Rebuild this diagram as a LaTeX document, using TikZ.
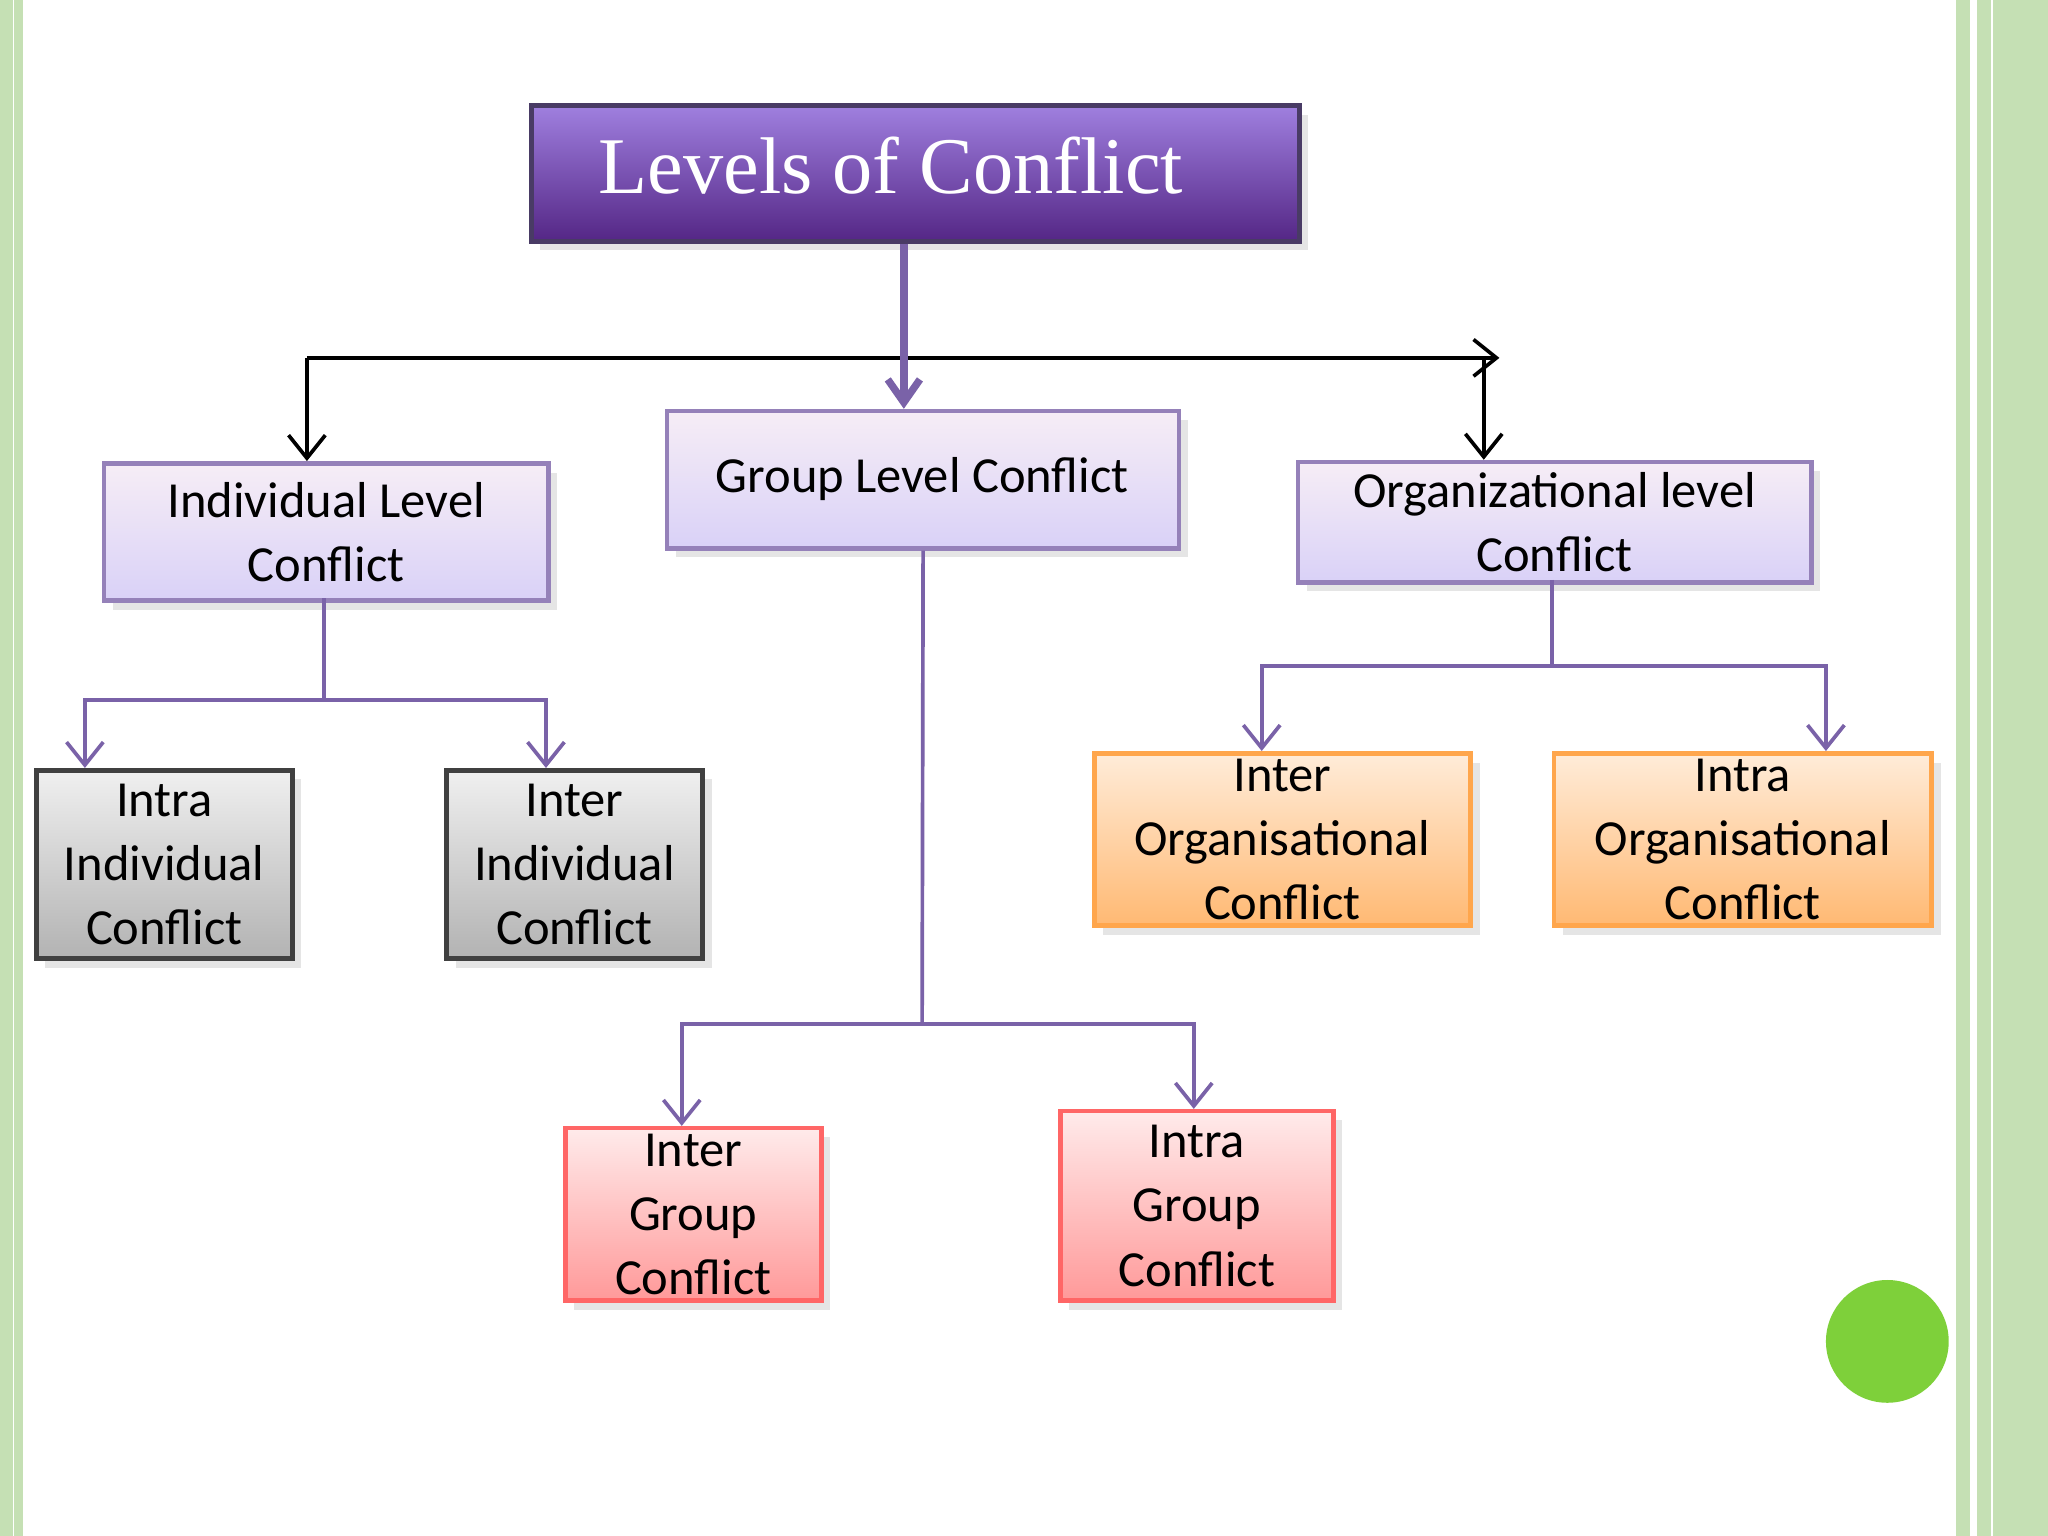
\documentclass[tikz,border=0pt]{standalone}
\usepackage{fontspec}
\setmainfont{Carlito}
\newfontfamily\titlefont{Liberation Serif}
\usetikzlibrary{arrows.meta,shadows}
\definecolor{pline}{HTML}{7A62A8}
\definecolor{gborder}{HTML}{C5E0B4}
\definecolor{gdot}{HTML}{7ED03A}
\tikzset{
 bx/.style={draw, line width=1pt, align=center, font=\fontsize{11}{14}\selectfont, inner sep=0pt, anchor=north west, drop shadow={shadow xshift=2pt,shadow yshift=-2pt,opacity=0.2}},
 lav/.style={bx, draw=pline!80, top color=violet!7, bottom color=violet!35!blue!18!white},
 gry/.style={bx, draw=black!75, top color=black!6, bottom color=black!30},
 org/.style={bx, draw=orange!70, top color=orange!15, bottom color=orange!55},
 pnk/.style={bx, draw=red!60, top color=red!8, bottom color=red!40},
 pl/.style={draw=pline, line width=0.8pt},
 pa/.style={pl, -{Straight Barb[length=5pt,width=8pt]}},
 ba/.style={draw=black, line width=0.8pt, -{Straight Barb[length=5pt,width=8pt]}}
}
\begin{document}
\begin{tikzpicture}[x=0.01cm,y=-0.01cm]
\useasboundingbox (0,0) rectangle (1568,1176);
\fill[white] (0,0) rectangle (1568,1176);
\fill[gborder] (0,0) rectangle (10,1176);
\draw[gborder, line width=2pt] (14,0) -- (14,1176);
\fill[gborder] (1526,0) rectangle (1568,1176);
\draw[gborder, line width=3pt] (1503,0) -- (1503,1176);
\draw[gborder, line width=3pt] (1519,0) -- (1519,1176);
\fill[gdot] (1445,1027) circle (47);
% boxes
\node[bx, draw=pline!60!black, top color=violet!50!blue!50!white, bottom color=violet!65!blue!65!black!85, minimum width=588*0.01cm, minimum height=104*0.01cm] (t) at (405,79) {};
\node[text=white, font=\titlefont\fontsize{17.5}{20}\selectfont] (tt) at (682,127) {Levels of Conflict};
\node[lav, minimum width=340*0.01cm, minimum height=105*0.01cm] (ind) at (78,353) {Individual Level\\Conflict};
\node[lav, minimum width=392*0.01cm, minimum height=105*0.01cm] (grp) at (509,313) {};
\node (gt) at (706,367) {\fontsize{11}{14}\selectfont Group Level Conflict};
\node[lav, minimum width=393*0.01cm, minimum height=92*0.01cm] (orgl) at (992,352) {Organizational level\\Conflict};
\node[gry, minimum width=196*0.01cm, minimum height=144*0.01cm] (ii) at (26,588) {Intra\\Individual\\Conflict};
\node[gry, minimum width=196*0.01cm, minimum height=144*0.01cm] (ei) at (340,588) {Inter\\Individual\\Conflict};
\node[org, minimum width=288*0.01cm, minimum height=132*0.01cm] (eo) at (836,575) {Inter\\Organisational\\Conflict};
\node[org, minimum width=289*0.01cm, minimum height=132*0.01cm] (io) at (1188,575) {Intra\\Organisational\\Conflict};
\node[pnk, minimum width=196*0.01cm, minimum height=132*0.01cm] (eg) at (431,862) {Inter\\Group\\Conflict};
\node[pnk, minimum width=209*0.01cm, minimum height=145*0.01cm] (ig) at (810,849) {Intra\\Group\\Conflict};
% connectors
\coordinate (bl) at (235,274); \coordinate (br) at (1148,274); \coordinate (bm) at (1136,274);
\draw[ba] (bl) -- (br);
\draw[ba] (bl) -- (bl |- ind.north);
\draw[ba] (bm) -- (bm |- orgl.north);
\draw[pl, line width=1.6pt, -{Straight Barb[length=5pt,width=7pt]}] (t.south -| 692,0) -- (692,313);
\coordinate (j1) at (248,536);
\draw[pl] (248,458) -- (j1);
\draw[pa] (j1) -| (65,588);
\draw[pa] (j1) -| (418,588);
\coordinate (j2) at (706,784);
\draw[pl] (grp.south) -- (j2);
\draw[pa] (j2) -| (522,862);
\draw[pa] (j2) -| (914,849);
\coordinate (j3) at (1188,510);
\draw[pl] (1188,444) -- (j3);
\draw[pa] (j3) -| (966,575);
\draw[pa] (j3) -| (1398,575);
\end{tikzpicture}
\end{document}
